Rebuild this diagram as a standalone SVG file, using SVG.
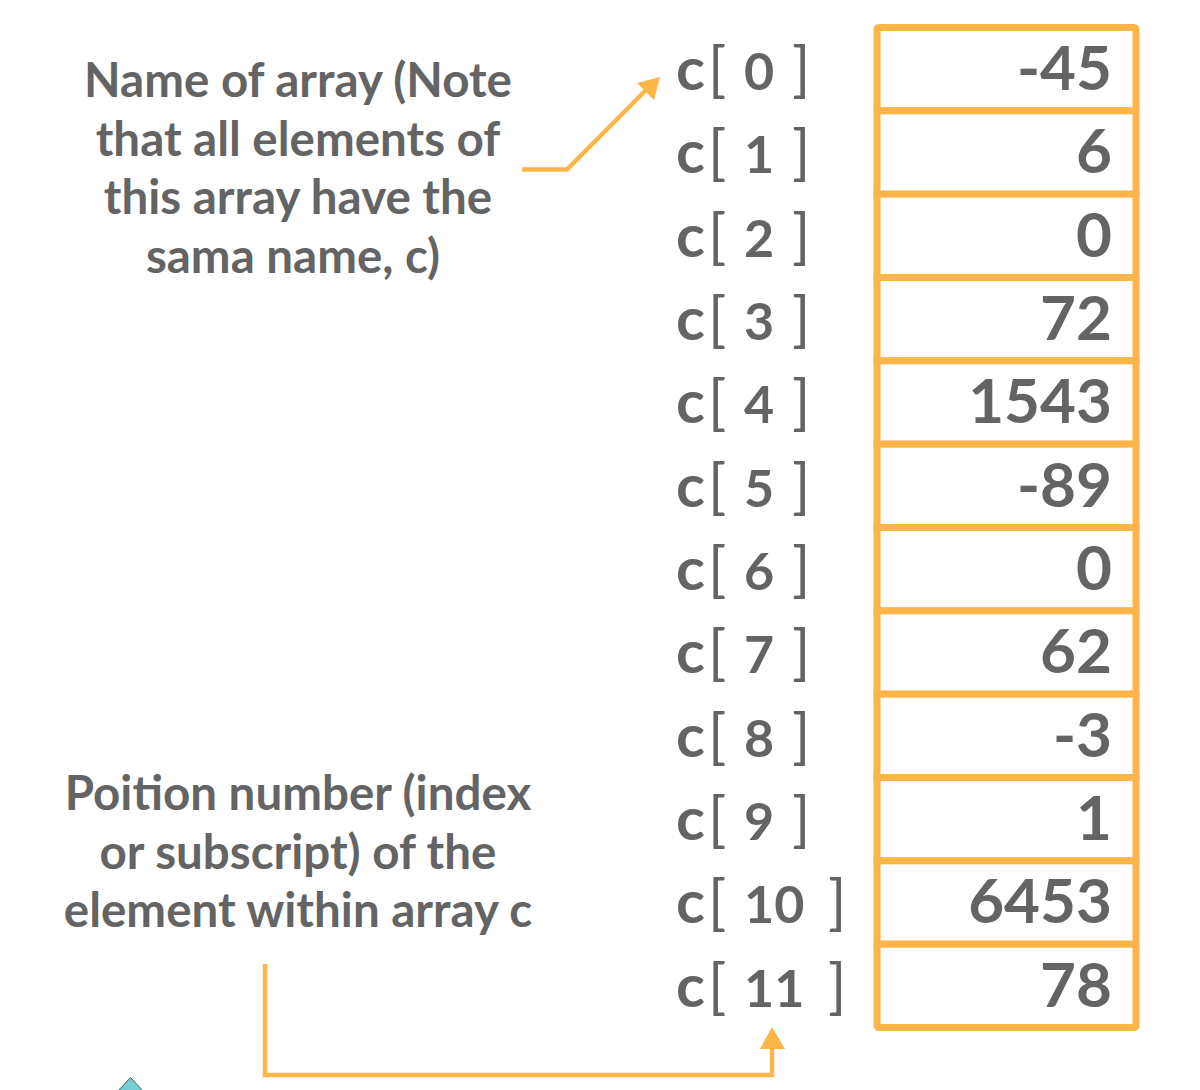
<svg xmlns="http://www.w3.org/2000/svg" width="1200" height="1090" viewBox="0 0 1200 1090">
<style>
  .t { font-family: Lato, "Open Sans", "Liberation Sans", sans-serif; fill: #646464; }
  .note { font-size: 47.5px; font-weight: 700; text-anchor: middle; }
  .lbl { font-size: 52px; font-weight: 700; }
  .cc { font-size: 60px; font-weight: 700; }
  .br { font-size: 60px; font-weight: 400; }
  .val { font-size: 62px; font-weight: 700; text-anchor: end; }
  .cell { fill: #ffffff; stroke: #FBB548; stroke-width: 7; }
  .conn { fill: none; stroke: #FBB548; stroke-width: 4.5; stroke-linejoin: miter; }
  .head { fill: #FBB548; }
</style>
<rect width="1200" height="1090" fill="#ffffff"/>

<g id="note-name" class="t note">
  <text x="298" y="97">Name of array (Note</text>
  <text x="298" y="156">that all elements of</text>
  <text x="298" y="214">this array have the</text>
  <text x="293" y="273">sama name, c)</text>
</g>

<g id="note-index" class="t note">
  <text x="298" y="810">Poition number (index</text>
  <text x="298" y="869">or subscript) of the</text>
  <text x="298" y="927">element within array c</text>
</g>

<g id="array">
  <g id="cell-0"><rect class="cell" x="877" y="27.5" width="259" height="83.33" rx="2"/><text class="t val" x="1112" y="90">-45</text><text class="t lbl" y="90"><tspan class="cc" x="676">c</tspan><tspan class="br" x="708">[</tspan><tspan x="744">0</tspan><tspan class="br" x="792">]</tspan></text></g>
  <g id="cell-1"><rect class="cell" x="877" y="110.83" width="259" height="83.33"/><text class="t val" x="1112" y="173.3">6</text><text class="t lbl" y="173.3"><tspan class="cc" x="676">c</tspan><tspan class="br" x="708">[</tspan><tspan x="744">1</tspan><tspan class="br" x="792">]</tspan></text></g>
  <g id="cell-2"><rect class="cell" x="877" y="194.17" width="259" height="83.33"/><text class="t val" x="1112" y="256.7">0</text><text class="t lbl" y="256.7"><tspan class="cc" x="676">c</tspan><tspan class="br" x="708">[</tspan><tspan x="744">2</tspan><tspan class="br" x="792">]</tspan></text></g>
  <g id="cell-3"><rect class="cell" x="877" y="277.5" width="259" height="83.33"/><text class="t val" x="1112" y="340">72</text><text class="t lbl" y="340"><tspan class="cc" x="676">c</tspan><tspan class="br" x="708">[</tspan><tspan x="744">3</tspan><tspan class="br" x="792">]</tspan></text></g>
  <g id="cell-4"><rect class="cell" x="877" y="360.83" width="259" height="83.33"/><text class="t val" x="1112" y="423.3">1543</text><text class="t lbl" y="423.3"><tspan class="cc" x="676">c</tspan><tspan class="br" x="708">[</tspan><tspan x="744">4</tspan><tspan class="br" x="792">]</tspan></text></g>
  <g id="cell-5"><rect class="cell" x="877" y="444.17" width="259" height="83.33"/><text class="t val" x="1112" y="506.7">-89</text><text class="t lbl" y="506.7"><tspan class="cc" x="676">c</tspan><tspan class="br" x="708">[</tspan><tspan x="744">5</tspan><tspan class="br" x="792">]</tspan></text></g>
  <g id="cell-6"><rect class="cell" x="877" y="527.5" width="259" height="83.33"/><text class="t val" x="1112" y="590">0</text><text class="t lbl" y="590"><tspan class="cc" x="676">c</tspan><tspan class="br" x="708">[</tspan><tspan x="744">6</tspan><tspan class="br" x="792">]</tspan></text></g>
  <g id="cell-7"><rect class="cell" x="877" y="610.83" width="259" height="83.33"/><text class="t val" x="1112" y="673.3">62</text><text class="t lbl" y="673.3"><tspan class="cc" x="676">c</tspan><tspan class="br" x="708">[</tspan><tspan x="744">7</tspan><tspan class="br" x="792">]</tspan></text></g>
  <g id="cell-8"><rect class="cell" x="877" y="694.17" width="259" height="83.33"/><text class="t val" x="1112" y="756.7">-3</text><text class="t lbl" y="756.7"><tspan class="cc" x="676">c</tspan><tspan class="br" x="708">[</tspan><tspan x="744">8</tspan><tspan class="br" x="792">]</tspan></text></g>
  <g id="cell-9"><rect class="cell" x="877" y="777.5" width="259" height="83.33"/><text class="t val" x="1112" y="840">1</text><text class="t lbl" y="840"><tspan class="cc" x="676">c</tspan><tspan class="br" x="708">[</tspan><tspan x="744">9</tspan><tspan class="br" x="792">]</tspan></text></g>
  <g id="cell-10"><rect class="cell" x="877" y="860.83" width="259" height="83.33"/><text class="t val" x="1112" y="923.3">6453</text><text class="t lbl" y="923.3"><tspan class="cc" x="676">c</tspan><tspan class="br" x="708">[</tspan><tspan x="744">10</tspan><tspan class="br" x="828">]</tspan></text></g>
  <g id="cell-11"><rect class="cell" x="877" y="944.17" width="259" height="83.33" rx="2"/><text class="t val" x="1112" y="1006.7">78</text><text class="t lbl" y="1006.7"><tspan class="cc" x="676">c</tspan><tspan class="br" x="708">[</tspan><tspan x="744">11</tspan><tspan class="br" x="828">]</tspan></text></g>
</g>

<g id="connectors">
  <polyline class="conn" points="522,169.5 567,169.5 648,88"/>
  <polygon class="head" points="660,77 637,83 654,100"/>
  <polyline class="conn" points="265,964 265,1075 772,1075 772,1046"/>
  <polygon class="head" points="772,1027 760,1049 785,1049"/>
</g>

<polygon id="teal-mark" points="130.5,1077.5 118,1091 143,1091" fill="#74CED4" stroke="#555555" stroke-width="1"/>
</svg>
